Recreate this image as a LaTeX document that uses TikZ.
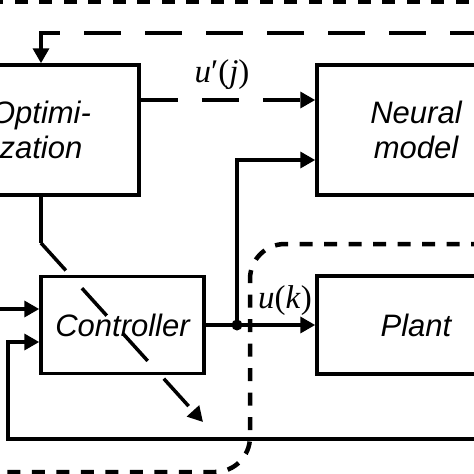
\documentclass[tikz,border=0pt]{standalone}
\usepackage{fontspec}
\newfontfamily\boxfont{Liberation Sans}
\newfontfamily\lblfont{Liberation Serif}
\usetikzlibrary{arrows.meta,calc}
\begin{document}
\begin{tikzpicture}[x=1pt,y=-1pt,
  blk/.style={draw,line width=3.5pt,rectangle,inner sep=0pt,align=center,
    font=\boxfont\itshape\fontsize{31}{35}\selectfont},
  wire/.style={line width=3.5pt},
  tip/.style={-{Triangle[length=15pt,width=16pt]}},
  longdash/.style={dash pattern=on 37pt off 24pt},
  bound/.style={line width=4.5pt,dash pattern=on 13pt off 11.5pt},
  sig/.style={inner sep=0pt,font=\lblfont\fontsize{33}{36}\selectfont}]
\useasboundingbox (0,0) rectangle (474,474);
% boxes
\node[blk,minimum width=196pt,minimum height=130pt] (opt) at (41,130) {Optimi-\\zation};
\node[blk,minimum width=198pt,minimum height=130pt] (neural) at (416,130) {Neural\\model};
\node[blk,minimum width=163pt,minimum height=97pt] (ctrl) at (122.5,325) {Controller};
\node[blk,minimum width=198pt,minimum height=98pt] (plant) at (416,325) {Plant};
% region boundaries
\coordinate (bTL) at (-10,1.5);
\coordinate (bTR) at (484,1.5);
\draw[bound] (bTL) -- (bTR);
\coordinate (rA) at (484,244);
\coordinate (rB) at (250,244);
\coordinate (rC) at (250,472);
\coordinate (rD) at (-10,472);
\draw[bound,rounded corners=35pt] (rA) -- (rB) -- (rC) -- (rD);
% top dashed feedback into optimization
\coordinate (tR) at (480,33);
\coordinate (tc) at (41,33);
\draw[wire,longdash,dash phase=16pt] ([xshift=-1.75pt]tc) -- (tR);
\draw[wire,tip] ([yshift=1.75pt]tc) -- (opt.north);
% u'(j)
\draw[wire,longdash,tip] ([yshift=30pt]opt.east) -- ([yshift=30pt]neural.west);
\node[sig,anchor=base] (luj) at (222,82) {\textit{u}′(\textit{j})};
% controller output
\node[circle,fill,inner sep=0pt,minimum size=11pt] (jn) at (237,325) {};
\draw[wire] (ctrl.east) -- (jn.center);
\draw[wire,tip] (jn.center) -- (plant.west);
\draw[wire,tip] (jn.center) |- ([yshift=-30pt]neural.west);
\node[sig,anchor=base] (luk) at (285,308) {\textit{u}(\textit{k})};
% input from left
\coordinate (in1) at (-5,309);
\draw[wire,tip] (in1) -- (in1 -| ctrl.west);
% feedback from plant output
\coordinate (fbR) at (480,439);
\coordinate (fbL) at (8,439);
\draw[wire,tip] (fbR) -- (fbL) |- ([yshift=-17pt]ctrl.west);
% optimization sets controller parameters
\coordinate (bend) at (41,243);
\coordinate (dtip) at (203,422);
\draw[wire] (opt.south) -- (bend);
\draw[wire,longdash,tip] (bend) -- (dtip);
\end{tikzpicture}
\end{document}
